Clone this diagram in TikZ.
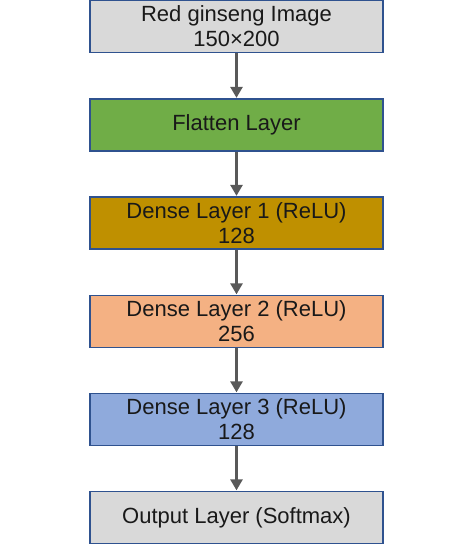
\documentclass[tikz,border=0pt]{standalone}
\usepackage{fontspec}
\setmainfont{Liberation Sans}
\usetikzlibrary{arrows.meta}
\definecolor{bordc}{HTML}{2F528F}
\definecolor{grayf}{HTML}{D9D9D9}
\definecolor{greenf}{HTML}{70AD47}
\definecolor{goldf}{HTML}{BF9000}
\definecolor{peachf}{HTML}{F4B183}
\definecolor{bluef}{HTML}{8FAADC}
\definecolor{arrc}{HTML}{595959}
\tikzset{
  layerbox/.style={draw=bordc, line width=1.3pt, minimum width=293pt, minimum height=52pt,
    inner sep=0pt, align=center, font=\fontsize{22}{25}\selectfont, text=black!90},
  conn/.style={draw=arrc, line width=2.6pt, -{Triangle[length=11pt,width=12pt]}, shorten >=0.5pt}
}
\begin{document}
\begin{tikzpicture}[x=1pt,y=-1pt]
\useasboundingbox (0,0) rectangle (474,555);
\node[layerbox, fill=grayf] (inp) at (236.5,26.5) {Red ginseng Image\\150\texttimes200};
\node[layerbox, fill=greenf] (flat) at (236.5,125) {Flatten Layer};
\node[layerbox, fill=goldf] (d1) at (236.5,223) {Dense Layer 1 (ReLU)\\128};
\node[layerbox, fill=peachf] (d2) at (236.5,321.5) {Dense Layer 2 (ReLU)\\256};
\node[layerbox, fill=bluef] (d3) at (236.5,419.5) {Dense Layer 3 (ReLU)\\128};
\node[layerbox, fill=grayf] (out) at (236.5,517.5) {Output Layer (Softmax)};
\draw[conn] (inp) -- (flat);
\draw[conn] (flat) -- (d1);
\draw[conn] (d1) -- (d2);
\draw[conn] (d2) -- (d3);
\draw[conn] (d3) -- (out);
\end{tikzpicture}
\end{document}
